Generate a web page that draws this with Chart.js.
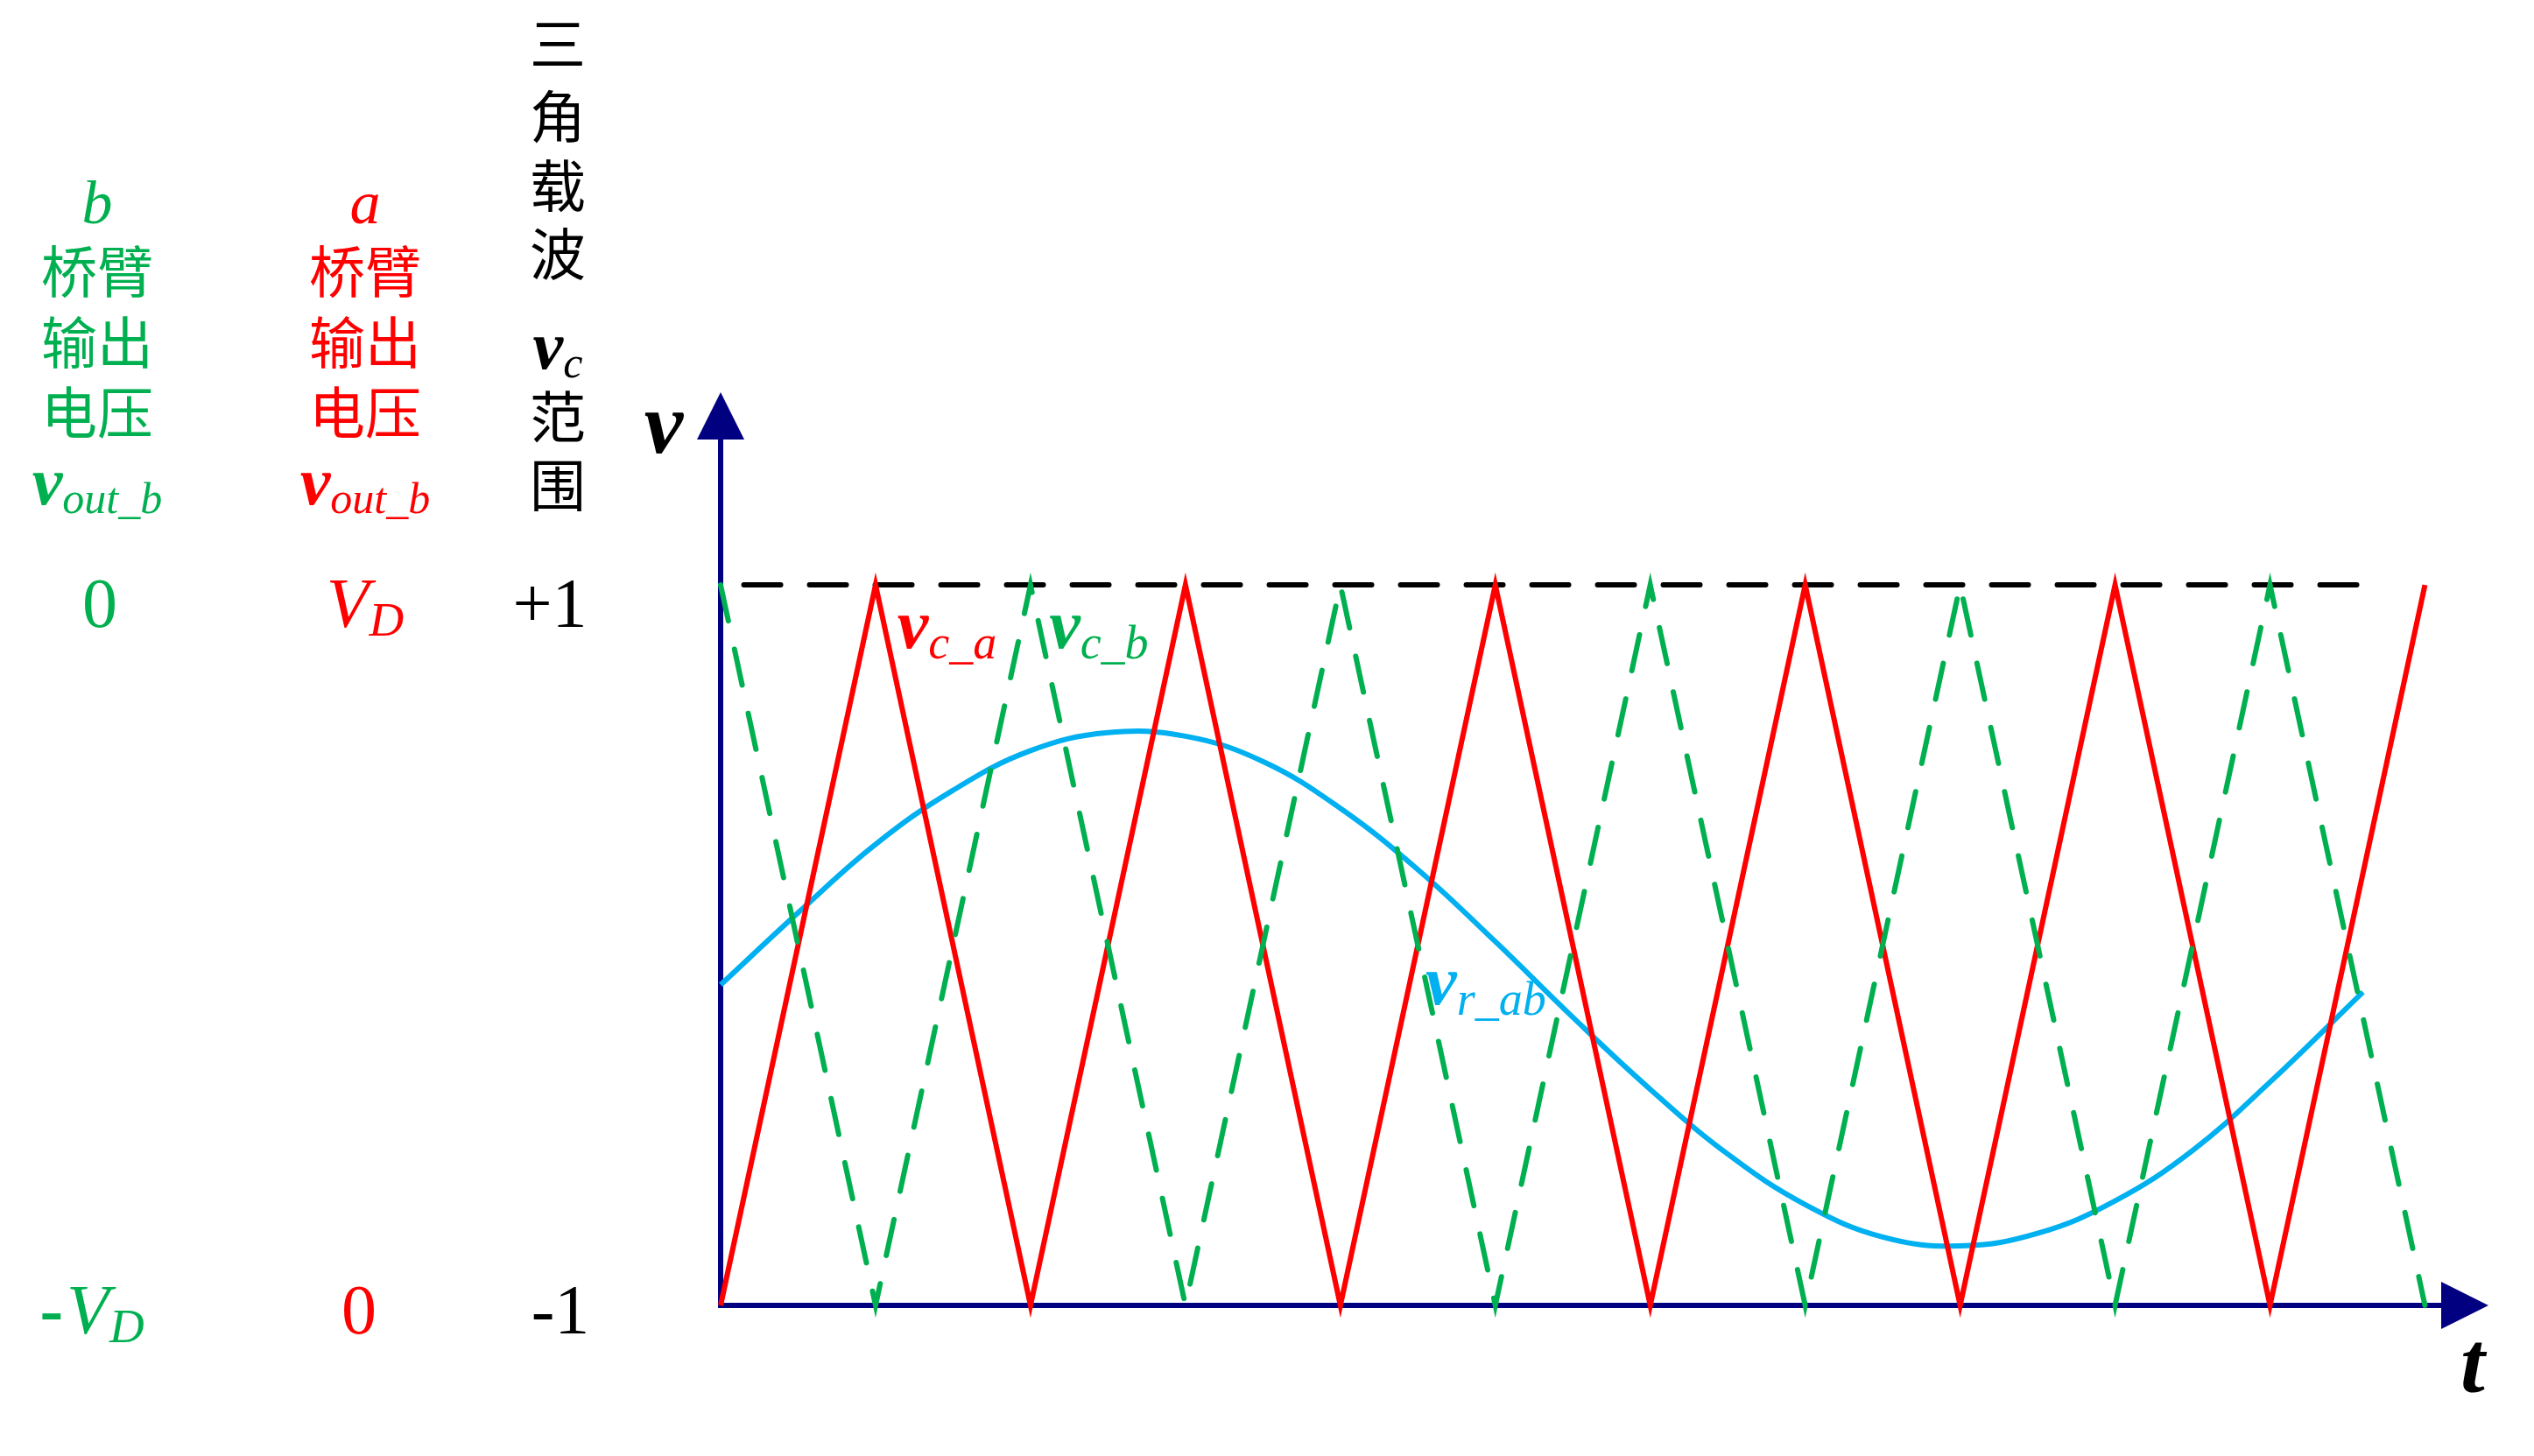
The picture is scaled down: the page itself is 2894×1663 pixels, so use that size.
<!DOCTYPE html>
<html>
<head>
<meta charset="utf-8">
<script src="https://cdn.jsdelivr.net/npm/chart.js@4.4.0/dist/chart.umd.min.js"></script>
<style>
  html, body { margin: 0; padding: 0; background: #fff; }
  #wrap { width: 2894px; height: 1663px; position: relative; }
</style>
</head>
<body>
<div id="wrap"><canvas id="pwmChart"></canvas></div>
<script>
// time is counted in carrier half-periods
const carrierTime = [0, 1, 2, 3, 4, 5, 6, 7, 8, 9, 10, 11];
const carrierA = [-1, 1, -1, 1, -1, 1, -1, 1, -1, 1, -1, 1];
const carrierB = [1, -1, 1, -1, 1, -1, 1, -1, 1, -1, 1, -1];

// reference wave v_r_ab
const refTime = [0, 0.5, 1, 1.5, 2, 2.5, 3, 3.5, 4, 4.5, 5, 5.5, 6, 6.5, 7, 7.5, 8, 8.5, 9, 9.5, 10, 10.6];
const refWave = [-0.11, 0.09, 0.28, 0.43, 0.54, 0.59, 0.58, 0.51, 0.38, 0.21, 0.01, -0.2, -0.4, -0.58, -0.72, -0.81, -0.835, -0.8, -0.71, -0.57, -0.38, -0.13];

// dashed +1 limit of the carrier
const limitTime = [0.15, 10.56];
const limitValue = [1, 1];

// tick rows (value on the v axis) and the text of the three columns
const tickValues = [1, -1];
const bTicks = ['0', '-V_D'];
const aTicks = ['V_D', '0'];
const carrierTicks = ['+1', '-1'];

// column headings
const bTitle = ['b', '桥臂', '输出', '电压', 'v_out_b'];
const aTitle = ['a', '桥臂', '输出', '电压', 'v_out_b'];
const carrierTitle = ['三', '角', '载', '波', 'v_c', '范', '围'];

// series names and where they sit (data units)
const seriesNames = ['v_c_a', 'v_c_b', 'v_r_ab'];
const seriesNameX = [1.14, 2.12, 4.55];
const seriesNameY = [0.825, 0.825, -0.165];

const RED = '#FF0000';
const GREEN = '#00B050';
const BLUE = '#00B0F0';
const NAVY = '#000080';
const SERIF = '"Liberation Serif", "Times New Roman", serif';
const CJK = '"Noto Sans CJK SC", sans-serif';

function pts(xs, ys) {
    return xs.map((x, i) => ({ x: x, y: ys[i] }));
}

// draw "main_sub" with a lowered subscript
function drawSub(ctx, text, x, y, o) {
    const i = text.indexOf('_');
    let main = i < 0 ? text : text.slice(0, i);
    const sub = i < 0 ? '' : text.slice(i + 1);
    let minus = '';
    if (main[0] === '-') { minus = '-'; main = main.slice(1); }
    const mainFont = (o.bold ? 'italic bold ' : 'italic ') + o.size + 'px ' + SERIF;
    const minusFont = 'bold ' + o.size + 'px ' + SERIF;
    const subFont = 'italic ' + o.subSize + 'px ' + SERIF;
    ctx.font = minusFont;
    const w0 = minus ? ctx.measureText(minus).width + 4 : 0;
    ctx.font = mainFont;
    const w1 = ctx.measureText(main).width;
    ctx.font = subFont;
    const w2 = ctx.measureText(sub).width;
    let sx = o.align === 'center' ? x - (w0 + w1 + w2) / 2 : x;
    ctx.fillStyle = o.color;
    ctx.textAlign = 'left';
    ctx.textBaseline = 'alphabetic';
    if (minus) { ctx.font = minusFont; ctx.fillText(minus, sx, y); sx += w0; }
    ctx.font = mainFont;
    ctx.fillText(main, sx, y);
    ctx.font = subFont;
    ctx.fillText(sub, sx + w1, y + o.drop);
}

function drawPlain(ctx, text, x, y, color, font) {
    ctx.font = font;
    ctx.fillStyle = color;
    ctx.textAlign = 'center';
    ctx.textBaseline = 'alphabetic';
    ctx.fillText(text, x, y);
}

function drawTick(ctx, text, x, y, color) {
    if (text.indexOf('_') >= 0) {
        drawSub(ctx, text, x, y, { color: color, size: 80, subSize: 55, drop: 10, align: 'center' });
    } else {
        drawPlain(ctx, text, x, y, color, '80px ' + SERIF);
    }
}

function drawColumn(ctx, lines, x, rowsY, color) {
    lines.forEach((t, i) => {
        const y = rowsY[i];
        if (/[\u4e00-\u9fff]/.test(t)) {
            ctx.font = '64px ' + CJK;
            ctx.fillStyle = color;
            ctx.textAlign = 'center';
            ctx.textBaseline = 'middle';
            ctx.fillText(t, x, y);
        } else if (t.indexOf('_') >= 0) {
            drawSub(ctx, t, x, y, { color: color, size: 78, subSize: 50, drop: 10, align: 'center', bold: true });
        } else {
            drawPlain(ctx, t, x, y, color, 'italic 70px ' + SERIF);
        }
    });
}

const overlay = {
    id: 'overlay',
    beforeDatasetsDraw(chart) {
        const ctx = chart.ctx;
        const xs = chart.scales.x, ys = chart.scales.y;
        const x0 = xs.getPixelForValue(0);
        const yb = ys.getPixelForValue(-1);
        const xe = xs.getPixelForValue(xs.max);
        const yt = ys.getPixelForValue(ys.max);
        const head = 54, half = 27;
        ctx.save();
        ctx.strokeStyle = NAVY;
        ctx.fillStyle = NAVY;
        ctx.lineWidth = 6;
        ctx.lineCap = 'square';
        ctx.beginPath();
        ctx.moveTo(x0, yt + head);
        ctx.lineTo(x0, yb);
        ctx.lineTo(xe - head, yb);
        ctx.stroke();
        ctx.beginPath();
        ctx.moveTo(x0, yt);
        ctx.lineTo(x0 - half, yt + head);
        ctx.lineTo(x0 + half, yt + head);
        ctx.closePath();
        ctx.fill();
        ctx.beginPath();
        ctx.moveTo(xe, yb);
        ctx.lineTo(xe - head, yb - half);
        ctx.lineTo(xe - head, yb + half);
        ctx.closePath();
        ctx.fill();
        ctx.restore();
    },
    afterDraw(chart) {
        const ctx = chart.ctx;
        const xs = chart.scales.x, ys = chart.scales.y;
        ctx.save();

        // axis names
        drawPlain(ctx, 'v', 758, 517, '#000', 'italic bold 100px ' + SERIF);
        drawPlain(ctx, 't', 2824, 1590, '#000', 'italic bold 100px ' + SERIF);

        // column headings
        const titleRows = [255, 310, 391, 471, 576];
        drawColumn(ctx, bTitle, 111, titleRows, GREEN);
        drawColumn(ctx, aTitle, 417, titleRows, RED);
        drawColumn(ctx, carrierTitle, 637, [50, 133, 212, 290, 421, 476, 554], '#000');

        // tick rows
        const tickShift = [48, 32];
        const bX = [114, 105], aX = [417, 410], cX = [628, 640];
        tickValues.forEach((v, i) => {
            const y = ys.getPixelForValue(v) + tickShift[i];
            drawTick(ctx, bTicks[i], bX[i], y, GREEN);
            drawTick(ctx, aTicks[i], aX[i], y, RED);
            drawTick(ctx, carrierTicks[i], cX[i], y, '#000');
        });

        // series names
        const nameColors = [RED, GREEN, BLUE];
        seriesNames.forEach((n, i) => {
            drawSub(ctx, n, xs.getPixelForValue(seriesNameX[i]), ys.getPixelForValue(seriesNameY[i]),
                { color: nameColors[i], size: 80, subSize: 54, drop: 12, align: 'left', bold: true });
        });
        ctx.restore();
    }
};

const ctx = document.getElementById('pwmChart').getContext('2d');
const pwmChart = new Chart(ctx, {
    type: 'line',
    data: {
        datasets: [{
            label: 'v_c_b',
            data: pts(carrierTime, carrierB),
            borderColor: GREEN,
            borderWidth: 6,
            borderDash: [42, 33],
            borderCapStyle: 'round',
            borderJoinStyle: 'miter',
            tension: 0,
            order: 0
        }, {
            label: 'v_c_a',
            data: pts(carrierTime, carrierA),
            borderColor: RED,
            borderWidth: 6,
            borderJoinStyle: 'miter',
            tension: 0,
            order: 1
        }, {
            label: 'v_r_ab',
            data: pts(refTime, refWave),
            borderColor: BLUE,
            borderWidth: 6,
            tension: 0.4,
            order: 2
        }, {
            label: '+1',
            data: pts(limitTime, limitValue),
            borderColor: '#000',
            borderWidth: 6,
            borderDash: [42, 33],
            borderCapStyle: 'round',
            order: 3
        }]
    },
    options: {
        responsive: true,
        maintainAspectRatio: false,
        animation: false,
        clip: false,
        layout: {
            padding: { left: 823, right: 52, top: 448, bottom: 172 }
        },
        elements: {
            point: { radius: 0 }
        },
        plugins: {
            legend: { display: false },
            tooltip: { enabled: false }
        },
        scales: {
            x: { type: 'linear', min: 0, max: 11.41, display: false },
            y: { type: 'linear', min: -1, max: 1.535, display: false }
        }
    },
    plugins: [overlay]
});
</script>
</body>
</html>
